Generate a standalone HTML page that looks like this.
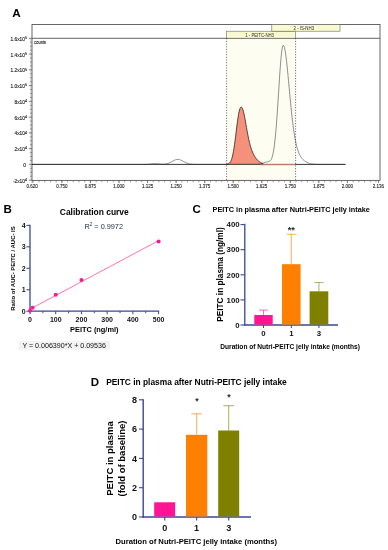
<!DOCTYPE html><html><head><meta charset="utf-8"><title>Figure</title>
<style>html,body{margin:0;padding:0;background:#fff}svg{display:block}text{font-family:"Liberation Sans",sans-serif}</style></head><body>
<svg width="388" height="550" viewBox="0 0 388 550">
<rect width="388" height="550" fill="#fff"/>
<g id="panelA">
<text x="12.3" y="16.6" font-size="11.7" font-weight="bold" fill="#000">A</text>
<rect x="226.6" y="38.3" width="69.00000000000003" height="142.10000000000002" fill="#fdfdf2"/>
<rect x="32.0" y="24.5" width="348.0" height="155.9" fill="none" stroke="#555" stroke-width="0.9"/>
<line x1="32.0" y1="38.3" x2="380.0" y2="38.3" stroke="#555" stroke-width="0.9"/>
<rect x="226.6" y="31.2" width="69.00000000000003" height="7" fill="#f9f9d2" stroke="#6a6a6a" stroke-width="0.6"/>
<rect x="271.8" y="24.6" width="68.2" height="6.6" fill="#f9f9d2" stroke="#6a6a6a" stroke-width="0.6"/>
<text x="259.6" y="36.5" font-size="5" text-anchor="middle" textLength="28.8" lengthAdjust="spacingAndGlyphs" fill="#2a2a2a">1 - PEITC-NH3</text>
<text x="303.8" y="29.7" font-size="5" text-anchor="middle" textLength="20.6" lengthAdjust="spacingAndGlyphs" fill="#2a2a2a">2 - IS-NH3</text>
<line x1="226.6" y1="38.3" x2="226.6" y2="180.4" stroke="#333" stroke-width="0.8" stroke-dasharray="1 1.65"/>
<line x1="295.6" y1="38.3" x2="295.6" y2="180.4" stroke="#333" stroke-width="0.8" stroke-dasharray="1 1.65"/>
<text x="34.3" y="43.9" font-size="4.9" textLength="11.8" lengthAdjust="spacingAndGlyphs" fill="#1a1a1a" stroke="#1a1a1a" stroke-width="0.12">counts</text>
<line x1="31.0" y1="38.3" x2="31.0" y2="180.4" stroke="#999" stroke-width="0.6"/>
<line x1="28.8" y1="38.30" x2="32.0" y2="38.30" stroke="#555" stroke-width="0.7"/>
<text x="27.0" y="40.80" font-size="4.8" text-anchor="end" fill="#1a1a1a" stroke="#1a1a1a" stroke-width="0.12">1.6x10<tspan dy="-1.7" font-size="3.7">5</tspan></text>
<line x1="29.9" y1="42.24" x2="32.0" y2="42.24" stroke="#666" stroke-width="0.6"/>
<line x1="29.9" y1="46.18" x2="32.0" y2="46.18" stroke="#666" stroke-width="0.6"/>
<line x1="29.9" y1="50.12" x2="32.0" y2="50.12" stroke="#666" stroke-width="0.6"/>
<line x1="28.8" y1="54.06" x2="32.0" y2="54.06" stroke="#555" stroke-width="0.7"/>
<text x="27.0" y="56.56" font-size="4.8" text-anchor="end" fill="#1a1a1a" stroke="#1a1a1a" stroke-width="0.12">1.4x10<tspan dy="-1.7" font-size="3.7">5</tspan></text>
<line x1="29.9" y1="58.00" x2="32.0" y2="58.00" stroke="#666" stroke-width="0.6"/>
<line x1="29.9" y1="61.94" x2="32.0" y2="61.94" stroke="#666" stroke-width="0.6"/>
<line x1="29.9" y1="65.88" x2="32.0" y2="65.88" stroke="#666" stroke-width="0.6"/>
<line x1="28.8" y1="69.83" x2="32.0" y2="69.83" stroke="#555" stroke-width="0.7"/>
<text x="27.0" y="72.33" font-size="4.8" text-anchor="end" fill="#1a1a1a" stroke="#1a1a1a" stroke-width="0.12">1.2x10<tspan dy="-1.7" font-size="3.7">5</tspan></text>
<line x1="29.9" y1="73.77" x2="32.0" y2="73.77" stroke="#666" stroke-width="0.6"/>
<line x1="29.9" y1="77.71" x2="32.0" y2="77.71" stroke="#666" stroke-width="0.6"/>
<line x1="29.9" y1="81.65" x2="32.0" y2="81.65" stroke="#666" stroke-width="0.6"/>
<line x1="28.8" y1="85.59" x2="32.0" y2="85.59" stroke="#555" stroke-width="0.7"/>
<text x="27.0" y="88.09" font-size="4.8" text-anchor="end" fill="#1a1a1a" stroke="#1a1a1a" stroke-width="0.12">1.0x10<tspan dy="-1.7" font-size="3.7">5</tspan></text>
<line x1="29.9" y1="89.53" x2="32.0" y2="89.53" stroke="#666" stroke-width="0.6"/>
<line x1="29.9" y1="93.47" x2="32.0" y2="93.47" stroke="#666" stroke-width="0.6"/>
<line x1="29.9" y1="97.41" x2="32.0" y2="97.41" stroke="#666" stroke-width="0.6"/>
<line x1="28.8" y1="101.35" x2="32.0" y2="101.35" stroke="#555" stroke-width="0.7"/>
<text x="27.0" y="103.85" font-size="4.8" text-anchor="end" fill="#1a1a1a" stroke="#1a1a1a" stroke-width="0.12">8x10<tspan dy="-1.7" font-size="3.7">4</tspan></text>
<line x1="29.9" y1="105.29" x2="32.0" y2="105.29" stroke="#666" stroke-width="0.6"/>
<line x1="29.9" y1="109.23" x2="32.0" y2="109.23" stroke="#666" stroke-width="0.6"/>
<line x1="29.9" y1="113.17" x2="32.0" y2="113.17" stroke="#666" stroke-width="0.6"/>
<line x1="28.8" y1="117.11" x2="32.0" y2="117.11" stroke="#555" stroke-width="0.7"/>
<text x="27.0" y="119.61" font-size="4.8" text-anchor="end" fill="#1a1a1a" stroke="#1a1a1a" stroke-width="0.12">6x10<tspan dy="-1.7" font-size="3.7">4</tspan></text>
<line x1="29.9" y1="121.05" x2="32.0" y2="121.05" stroke="#666" stroke-width="0.6"/>
<line x1="29.9" y1="124.99" x2="32.0" y2="124.99" stroke="#666" stroke-width="0.6"/>
<line x1="29.9" y1="128.93" x2="32.0" y2="128.93" stroke="#666" stroke-width="0.6"/>
<line x1="28.8" y1="132.88" x2="32.0" y2="132.88" stroke="#555" stroke-width="0.7"/>
<text x="27.0" y="135.38" font-size="4.8" text-anchor="end" fill="#1a1a1a" stroke="#1a1a1a" stroke-width="0.12">4x10<tspan dy="-1.7" font-size="3.7">4</tspan></text>
<line x1="29.9" y1="136.82" x2="32.0" y2="136.82" stroke="#666" stroke-width="0.6"/>
<line x1="29.9" y1="140.76" x2="32.0" y2="140.76" stroke="#666" stroke-width="0.6"/>
<line x1="29.9" y1="144.70" x2="32.0" y2="144.70" stroke="#666" stroke-width="0.6"/>
<line x1="28.8" y1="148.64" x2="32.0" y2="148.64" stroke="#555" stroke-width="0.7"/>
<text x="27.0" y="151.14" font-size="4.8" text-anchor="end" fill="#1a1a1a" stroke="#1a1a1a" stroke-width="0.12">2x10<tspan dy="-1.7" font-size="3.7">4</tspan></text>
<line x1="29.9" y1="152.58" x2="32.0" y2="152.58" stroke="#666" stroke-width="0.6"/>
<line x1="29.9" y1="156.52" x2="32.0" y2="156.52" stroke="#666" stroke-width="0.6"/>
<line x1="29.9" y1="160.46" x2="32.0" y2="160.46" stroke="#666" stroke-width="0.6"/>
<line x1="28.8" y1="164.40" x2="32.0" y2="164.40" stroke="#555" stroke-width="0.7"/>
<text x="25.8" y="166.90" font-size="4.8" text-anchor="end" fill="#1a1a1a" stroke="#1a1a1a" stroke-width="0.12">0</text>
<line x1="29.9" y1="168.34" x2="32.0" y2="168.34" stroke="#666" stroke-width="0.6"/>
<line x1="29.9" y1="172.28" x2="32.0" y2="172.28" stroke="#666" stroke-width="0.6"/>
<line x1="29.9" y1="176.22" x2="32.0" y2="176.22" stroke="#666" stroke-width="0.6"/>
<line x1="28.8" y1="180.16" x2="32.0" y2="180.16" stroke="#555" stroke-width="0.7"/>
<text x="27.0" y="182.66" font-size="4.8" text-anchor="end" fill="#1a1a1a" stroke="#1a1a1a" stroke-width="0.12">-2x10<tspan dy="-1.7" font-size="3.7">4</tspan></text>
<line x1="32.21" y1="180.4" x2="32.21" y2="183.1" stroke="#555" stroke-width="0.7"/>
<text x="32.21" y="187.5" font-size="4.5" text-anchor="middle" fill="#1a1a1a" stroke="#1a1a1a" stroke-width="0.1">0.620</text>
<line x1="61.90" y1="180.4" x2="61.90" y2="183.1" stroke="#555" stroke-width="0.7"/>
<text x="61.90" y="187.5" font-size="4.5" text-anchor="middle" fill="#1a1a1a" stroke="#1a1a1a" stroke-width="0.1">0.750</text>
<line x1="90.45" y1="180.4" x2="90.45" y2="183.1" stroke="#555" stroke-width="0.7"/>
<text x="90.45" y="187.5" font-size="4.5" text-anchor="middle" fill="#1a1a1a" stroke="#1a1a1a" stroke-width="0.1">0.875</text>
<line x1="119.00" y1="180.4" x2="119.00" y2="183.1" stroke="#555" stroke-width="0.7"/>
<text x="119.00" y="187.5" font-size="4.5" text-anchor="middle" fill="#1a1a1a" stroke="#1a1a1a" stroke-width="0.1">1.000</text>
<line x1="147.55" y1="180.4" x2="147.55" y2="183.1" stroke="#555" stroke-width="0.7"/>
<text x="147.55" y="187.5" font-size="4.5" text-anchor="middle" fill="#1a1a1a" stroke="#1a1a1a" stroke-width="0.1">1.125</text>
<line x1="176.10" y1="180.4" x2="176.10" y2="183.1" stroke="#555" stroke-width="0.7"/>
<text x="176.10" y="187.5" font-size="4.5" text-anchor="middle" fill="#1a1a1a" stroke="#1a1a1a" stroke-width="0.1">1.250</text>
<line x1="204.65" y1="180.4" x2="204.65" y2="183.1" stroke="#555" stroke-width="0.7"/>
<text x="204.65" y="187.5" font-size="4.5" text-anchor="middle" fill="#1a1a1a" stroke="#1a1a1a" stroke-width="0.1">1.375</text>
<line x1="233.20" y1="180.4" x2="233.20" y2="183.1" stroke="#555" stroke-width="0.7"/>
<text x="233.20" y="187.5" font-size="4.5" text-anchor="middle" fill="#1a1a1a" stroke="#1a1a1a" stroke-width="0.1">1.500</text>
<line x1="261.75" y1="180.4" x2="261.75" y2="183.1" stroke="#555" stroke-width="0.7"/>
<text x="261.75" y="187.5" font-size="4.5" text-anchor="middle" fill="#1a1a1a" stroke="#1a1a1a" stroke-width="0.1">1.625</text>
<line x1="290.30" y1="180.4" x2="290.30" y2="183.1" stroke="#555" stroke-width="0.7"/>
<text x="290.30" y="187.5" font-size="4.5" text-anchor="middle" fill="#1a1a1a" stroke="#1a1a1a" stroke-width="0.1">1.750</text>
<line x1="318.85" y1="180.4" x2="318.85" y2="183.1" stroke="#555" stroke-width="0.7"/>
<text x="318.85" y="187.5" font-size="4.5" text-anchor="middle" fill="#1a1a1a" stroke="#1a1a1a" stroke-width="0.1">1.875</text>
<line x1="347.40" y1="180.4" x2="347.40" y2="183.1" stroke="#555" stroke-width="0.7"/>
<text x="347.40" y="187.5" font-size="4.5" text-anchor="middle" fill="#1a1a1a" stroke="#1a1a1a" stroke-width="0.1">2.000</text>
<line x1="378.46" y1="180.4" x2="378.46" y2="183.1" stroke="#555" stroke-width="0.7"/>
<text x="378.46" y="187.5" font-size="4.5" text-anchor="middle" fill="#1a1a1a" stroke="#1a1a1a" stroke-width="0.1">2.136</text>
<line x1="33.35" y1="180.4" x2="33.35" y2="182.4" stroke="#666" stroke-width="0.6"/>
<line x1="39.06" y1="180.4" x2="39.06" y2="182.4" stroke="#666" stroke-width="0.6"/>
<line x1="44.77" y1="180.4" x2="44.77" y2="182.4" stroke="#666" stroke-width="0.6"/>
<line x1="50.48" y1="180.4" x2="50.48" y2="182.4" stroke="#666" stroke-width="0.6"/>
<line x1="56.19" y1="180.4" x2="56.19" y2="182.4" stroke="#666" stroke-width="0.6"/>
<line x1="61.90" y1="180.4" x2="61.90" y2="182.4" stroke="#666" stroke-width="0.6"/>
<line x1="67.61" y1="180.4" x2="67.61" y2="182.4" stroke="#666" stroke-width="0.6"/>
<line x1="73.32" y1="180.4" x2="73.32" y2="182.4" stroke="#666" stroke-width="0.6"/>
<line x1="79.03" y1="180.4" x2="79.03" y2="182.4" stroke="#666" stroke-width="0.6"/>
<line x1="84.74" y1="180.4" x2="84.74" y2="182.4" stroke="#666" stroke-width="0.6"/>
<line x1="90.45" y1="180.4" x2="90.45" y2="182.4" stroke="#666" stroke-width="0.6"/>
<line x1="96.16" y1="180.4" x2="96.16" y2="182.4" stroke="#666" stroke-width="0.6"/>
<line x1="101.87" y1="180.4" x2="101.87" y2="182.4" stroke="#666" stroke-width="0.6"/>
<line x1="107.58" y1="180.4" x2="107.58" y2="182.4" stroke="#666" stroke-width="0.6"/>
<line x1="113.29" y1="180.4" x2="113.29" y2="182.4" stroke="#666" stroke-width="0.6"/>
<line x1="119.00" y1="180.4" x2="119.00" y2="182.4" stroke="#666" stroke-width="0.6"/>
<line x1="124.71" y1="180.4" x2="124.71" y2="182.4" stroke="#666" stroke-width="0.6"/>
<line x1="130.42" y1="180.4" x2="130.42" y2="182.4" stroke="#666" stroke-width="0.6"/>
<line x1="136.13" y1="180.4" x2="136.13" y2="182.4" stroke="#666" stroke-width="0.6"/>
<line x1="141.84" y1="180.4" x2="141.84" y2="182.4" stroke="#666" stroke-width="0.6"/>
<line x1="147.55" y1="180.4" x2="147.55" y2="182.4" stroke="#666" stroke-width="0.6"/>
<line x1="153.26" y1="180.4" x2="153.26" y2="182.4" stroke="#666" stroke-width="0.6"/>
<line x1="158.97" y1="180.4" x2="158.97" y2="182.4" stroke="#666" stroke-width="0.6"/>
<line x1="164.68" y1="180.4" x2="164.68" y2="182.4" stroke="#666" stroke-width="0.6"/>
<line x1="170.39" y1="180.4" x2="170.39" y2="182.4" stroke="#666" stroke-width="0.6"/>
<line x1="176.10" y1="180.4" x2="176.10" y2="182.4" stroke="#666" stroke-width="0.6"/>
<line x1="181.81" y1="180.4" x2="181.81" y2="182.4" stroke="#666" stroke-width="0.6"/>
<line x1="187.52" y1="180.4" x2="187.52" y2="182.4" stroke="#666" stroke-width="0.6"/>
<line x1="193.23" y1="180.4" x2="193.23" y2="182.4" stroke="#666" stroke-width="0.6"/>
<line x1="198.94" y1="180.4" x2="198.94" y2="182.4" stroke="#666" stroke-width="0.6"/>
<line x1="204.65" y1="180.4" x2="204.65" y2="182.4" stroke="#666" stroke-width="0.6"/>
<line x1="210.36" y1="180.4" x2="210.36" y2="182.4" stroke="#666" stroke-width="0.6"/>
<line x1="216.07" y1="180.4" x2="216.07" y2="182.4" stroke="#666" stroke-width="0.6"/>
<line x1="221.78" y1="180.4" x2="221.78" y2="182.4" stroke="#666" stroke-width="0.6"/>
<line x1="227.49" y1="180.4" x2="227.49" y2="182.4" stroke="#666" stroke-width="0.6"/>
<line x1="233.20" y1="180.4" x2="233.20" y2="182.4" stroke="#666" stroke-width="0.6"/>
<line x1="238.91" y1="180.4" x2="238.91" y2="182.4" stroke="#666" stroke-width="0.6"/>
<line x1="244.62" y1="180.4" x2="244.62" y2="182.4" stroke="#666" stroke-width="0.6"/>
<line x1="250.33" y1="180.4" x2="250.33" y2="182.4" stroke="#666" stroke-width="0.6"/>
<line x1="256.04" y1="180.4" x2="256.04" y2="182.4" stroke="#666" stroke-width="0.6"/>
<line x1="261.75" y1="180.4" x2="261.75" y2="182.4" stroke="#666" stroke-width="0.6"/>
<line x1="267.46" y1="180.4" x2="267.46" y2="182.4" stroke="#666" stroke-width="0.6"/>
<line x1="273.17" y1="180.4" x2="273.17" y2="182.4" stroke="#666" stroke-width="0.6"/>
<line x1="278.88" y1="180.4" x2="278.88" y2="182.4" stroke="#666" stroke-width="0.6"/>
<line x1="284.59" y1="180.4" x2="284.59" y2="182.4" stroke="#666" stroke-width="0.6"/>
<line x1="290.30" y1="180.4" x2="290.30" y2="182.4" stroke="#666" stroke-width="0.6"/>
<line x1="296.01" y1="180.4" x2="296.01" y2="182.4" stroke="#666" stroke-width="0.6"/>
<line x1="301.72" y1="180.4" x2="301.72" y2="182.4" stroke="#666" stroke-width="0.6"/>
<line x1="307.43" y1="180.4" x2="307.43" y2="182.4" stroke="#666" stroke-width="0.6"/>
<line x1="313.14" y1="180.4" x2="313.14" y2="182.4" stroke="#666" stroke-width="0.6"/>
<line x1="318.85" y1="180.4" x2="318.85" y2="182.4" stroke="#666" stroke-width="0.6"/>
<line x1="324.56" y1="180.4" x2="324.56" y2="182.4" stroke="#666" stroke-width="0.6"/>
<line x1="330.27" y1="180.4" x2="330.27" y2="182.4" stroke="#666" stroke-width="0.6"/>
<line x1="335.98" y1="180.4" x2="335.98" y2="182.4" stroke="#666" stroke-width="0.6"/>
<line x1="341.69" y1="180.4" x2="341.69" y2="182.4" stroke="#666" stroke-width="0.6"/>
<line x1="347.40" y1="180.4" x2="347.40" y2="182.4" stroke="#666" stroke-width="0.6"/>
<line x1="353.11" y1="180.4" x2="353.11" y2="182.4" stroke="#666" stroke-width="0.6"/>
<line x1="358.82" y1="180.4" x2="358.82" y2="182.4" stroke="#666" stroke-width="0.6"/>
<line x1="364.53" y1="180.4" x2="364.53" y2="182.4" stroke="#666" stroke-width="0.6"/>
<line x1="370.24" y1="180.4" x2="370.24" y2="182.4" stroke="#666" stroke-width="0.6"/>
<line x1="375.95" y1="180.4" x2="375.95" y2="182.4" stroke="#666" stroke-width="0.6"/>
<path d="M227.00,164.23 L227.50,164.13 L228.00,163.99 L228.50,163.78 L229.00,163.48 L229.50,163.07 L230.00,162.50 L230.50,161.75 L231.00,160.77 L231.50,159.52 L232.00,157.96 L232.50,156.06 L233.00,153.79 L233.50,151.14 L234.00,148.12 L234.50,144.75 L235.00,141.09 L235.50,137.19 L236.00,133.16 L236.50,129.08 L237.00,125.08 L237.50,121.27 L238.00,117.76 L238.50,114.66 L239.00,112.05 L239.50,109.99 L240.00,108.49 L240.50,107.56 L241.00,107.15 L241.50,107.14 L242.00,107.60 L242.50,108.54 L243.00,109.95 L243.50,111.76 L244.00,113.92 L244.50,116.37 L245.00,119.02 L245.50,121.82 L246.00,124.68 L246.50,127.54 L247.00,130.36 L247.50,133.09 L248.00,135.69 L248.50,138.14 L249.00,140.43 L249.50,142.55 L250.00,144.51 L250.50,146.30 L251.00,147.94 L251.50,149.43 L252.00,150.80 L252.50,152.05 L253.00,153.20 L253.50,154.25 L254.00,155.22 L254.50,156.11 L255.00,156.92 L255.50,157.68 L256.00,158.37 L256.50,159.00 L257.00,159.59 L257.50,160.12 L258.00,160.60 L258.50,161.05 L259.00,161.45 L259.50,161.81 L260.00,162.13 L260.50,162.43 L261.00,162.69 L261.50,162.92 L262.00,163.12 L262.50,163.30 L263.00,163.46 L263,164.4 L227,164.4 Z" fill="#f5907b" stroke="#2e2222" stroke-width="0.8" stroke-linejoin="round"/>
<path d="M32.00,164.40 L32.50,164.40 L33.00,164.40 L33.50,164.40 L34.00,164.40 L34.50,164.40 L35.00,164.40 L35.50,164.40 L36.00,164.40 L36.50,164.40 L37.00,164.40 L37.50,164.40 L38.00,164.40 L38.50,164.40 L39.00,164.40 L39.50,164.40 L40.00,164.40 L40.50,164.40 L41.00,164.40 L41.50,164.40 L42.00,164.40 L42.50,164.40 L43.00,164.40 L43.50,164.40 L44.00,164.40 L44.50,164.40 L45.00,164.40 L45.50,164.40 L46.00,164.40 L46.50,164.40 L47.00,164.40 L47.50,164.40 L48.00,164.40 L48.50,164.40 L49.00,164.40 L49.50,164.40 L50.00,164.40 L50.50,164.40 L51.00,164.40 L51.50,164.40 L52.00,164.40 L52.50,164.40 L53.00,164.40 L53.50,164.40 L54.00,164.40 L54.50,164.40 L55.00,164.40 L55.50,164.40 L56.00,164.40 L56.50,164.40 L57.00,164.40 L57.50,164.40 L58.00,164.40 L58.50,164.40 L59.00,164.40 L59.50,164.40 L60.00,164.40 L60.50,164.40 L61.00,164.40 L61.50,164.40 L62.00,164.40 L62.50,164.40 L63.00,164.40 L63.50,164.40 L64.00,164.40 L64.50,164.40 L65.00,164.40 L65.50,164.40 L66.00,164.40 L66.50,164.40 L67.00,164.40 L67.50,164.40 L68.00,164.40 L68.50,164.40 L69.00,164.40 L69.50,164.40 L70.00,164.40 L70.50,164.40 L71.00,164.40 L71.50,164.40 L72.00,164.40 L72.50,164.40 L73.00,164.40 L73.50,164.40 L74.00,164.40 L74.50,164.40 L75.00,164.40 L75.50,164.40 L76.00,164.40 L76.50,164.40 L77.00,164.40 L77.50,164.40 L78.00,164.40 L78.50,164.40 L79.00,164.40 L79.50,164.40 L80.00,164.40 L80.50,164.40 L81.00,164.40 L81.50,164.40 L82.00,164.40 L82.50,164.40 L83.00,164.40 L83.50,164.40 L84.00,164.40 L84.50,164.40 L85.00,164.40 L85.50,164.40 L86.00,164.40 L86.50,164.40 L87.00,164.40 L87.50,164.40 L88.00,164.40 L88.50,164.40 L89.00,164.40 L89.50,164.40 L90.00,164.40 L90.50,164.40 L91.00,164.40 L91.50,164.40 L92.00,164.40 L92.50,164.40 L93.00,164.40 L93.50,164.40 L94.00,164.40 L94.50,164.40 L95.00,164.40 L95.50,164.40 L96.00,164.40 L96.50,164.40 L97.00,164.40 L97.50,164.40 L98.00,164.40 L98.50,164.40 L99.00,164.40 L99.50,164.40 L100.00,164.40 L100.50,164.40 L101.00,164.40 L101.50,164.40 L102.00,164.40 L102.50,164.40 L103.00,164.40 L103.50,164.40 L104.00,164.40 L104.50,164.40 L105.00,164.40 L105.50,164.40 L106.00,164.40 L106.50,164.40 L107.00,164.40 L107.50,164.40 L108.00,164.40 L108.50,164.40 L109.00,164.40 L109.50,164.40 L110.00,164.40 L110.50,164.40 L111.00,164.40 L111.50,164.40 L112.00,164.40 L112.50,164.40 L113.00,164.40 L113.50,164.40 L114.00,164.40 L114.50,164.40 L115.00,164.40 L115.50,164.40 L116.00,164.40 L116.50,164.40 L117.00,164.40 L117.50,164.40 L118.00,164.40 L118.50,164.40 L119.00,164.40 L119.50,164.40 L120.00,164.40 L120.50,164.40 L121.00,164.40 L121.50,164.40 L122.00,164.40 L122.50,164.40 L123.00,164.40 L123.50,164.40 L124.00,164.40 L124.50,164.40 L125.00,164.40 L125.50,164.40 L126.00,164.40 L126.50,164.40 L127.00,164.40 L127.50,164.40 L128.00,164.40 L128.50,164.40 L129.00,164.40 L129.50,164.40 L130.00,164.40 L130.50,164.40 L131.00,164.40 L131.50,164.40 L132.00,164.40 L132.50,164.40 L133.00,164.40 L133.50,164.40 L134.00,164.40 L134.50,164.40 L135.00,164.40 L135.50,164.40 L136.00,164.40 L136.50,164.40 L137.00,164.40 L137.50,164.40 L138.00,164.40 L138.50,164.40 L139.00,164.40 L139.50,164.40 L140.00,164.40 L140.50,164.40 L141.00,164.40 L141.50,164.40 L142.00,164.40 L142.50,164.39 L143.00,164.39 L143.50,164.39 L144.00,164.38 L144.50,164.37 L145.00,164.36 L145.50,164.35 L146.00,164.34 L146.50,164.32 L147.00,164.29 L147.50,164.26 L148.00,164.23 L148.50,164.19 L149.00,164.14 L149.50,164.09 L150.00,164.03 L150.50,163.98 L151.00,163.91 L151.50,163.85 L152.00,163.80 L152.50,163.74 L153.00,163.69 L153.50,163.65 L154.00,163.62 L154.50,163.61 L155.00,163.60 L155.50,163.60 L156.00,163.62 L156.50,163.65 L157.00,163.69 L157.50,163.74 L158.00,163.79 L158.50,163.84 L159.00,163.90 L159.50,163.96 L160.00,164.01 L160.50,164.05 L161.00,164.09 L161.50,164.12 L162.00,164.15 L162.50,164.16 L163.00,164.16 L163.50,164.15 L164.00,164.12 L164.50,164.08 L165.00,164.03 L165.50,163.96 L166.00,163.88 L166.50,163.78 L167.00,163.66 L167.50,163.53 L168.00,163.37 L168.50,163.20 L169.00,163.01 L169.50,162.80 L170.00,162.57 L170.50,162.33 L171.00,162.07 L171.50,161.81 L172.00,161.53 L172.50,161.26 L173.00,160.98 L173.50,160.72 L174.00,160.46 L174.50,160.22 L175.00,160.01 L175.50,159.82 L176.00,159.66 L176.50,159.54 L177.00,159.45 L177.50,159.41 L178.00,159.40 L178.50,159.44 L179.00,159.52 L179.50,159.63 L180.00,159.78 L180.50,159.97 L181.00,160.18 L181.50,160.41 L182.00,160.66 L182.50,160.93 L183.00,161.20 L183.50,161.48 L184.00,161.75 L184.50,162.02 L185.00,162.28 L185.50,162.52 L186.00,162.75 L186.50,162.97 L187.00,163.17 L187.50,163.34 L188.00,163.50 L188.50,163.65 L189.00,163.77 L189.50,163.88 L190.00,163.97 L190.50,164.05 L191.00,164.12 L191.50,164.18 L192.00,164.22 L192.50,164.26 L193.00,164.29 L193.50,164.31 L194.00,164.33 L194.50,164.35 L195.00,164.36 L195.50,164.37 L196.00,164.38 L196.50,164.38 L197.00,164.39 L197.50,164.39 L198.00,164.39 L198.50,164.40 L199.00,164.40 L199.50,164.40 L200.00,164.40 L200.50,164.40 L201.00,164.40 L201.50,164.40 L202.00,164.40 L202.50,164.40 L203.00,164.40 L203.50,164.40 L204.00,164.40 L204.50,164.40 L205.00,164.40 L205.50,164.40 L206.00,164.40 L206.50,164.40 L207.00,164.40 L207.50,164.40 L208.00,164.40 L208.50,164.40 L209.00,164.40 L209.50,164.40 L210.00,164.40 L210.50,164.40 L211.00,164.40 L211.50,164.40 L212.00,164.40 L212.50,164.40 L213.00,164.40 L213.50,164.40 L214.00,164.40 L214.50,164.40 L215.00,164.40 L215.50,164.40 L216.00,164.40 L216.50,164.40 L217.00,164.40 L217.50,164.40 L218.00,164.40 L218.50,164.40 L219.00,164.40 L219.50,164.40 L220.00,164.40 L220.50,164.40 L221.00,164.40 L221.50,164.40 L222.00,164.40 L222.50,164.40 L223.00,164.40 L223.50,164.40 L224.00,164.40 L224.50,164.40 L225.00,164.40 L225.50,164.40 L226.00,164.40 L226.50,164.40 L227.00,164.40 L227.50,164.40 L228.00,164.40 L228.50,164.40 L229.00,164.40 L229.50,164.40 L230.00,164.40 L230.50,164.40 L231.00,164.40 L231.50,164.40 L232.00,164.40 L232.50,164.40 L233.00,164.40 L233.50,164.40 L234.00,164.40 L234.50,164.40 L235.00,164.40 L235.50,164.40 L236.00,164.40 L236.50,164.40 L237.00,164.40 L237.50,164.40 L238.00,164.40 L238.50,164.40 L239.00,164.40 L239.50,164.40 L240.00,164.40 L240.50,164.40 L241.00,164.40 L241.50,164.40 L242.00,164.40 L242.50,164.40 L243.00,164.40 L243.50,164.40 L244.00,164.40 L244.50,164.40 L245.00,164.40 L245.50,164.40 L246.00,164.40 L246.50,164.40 L247.00,164.40 L247.50,164.40 L248.00,164.40 L248.50,164.40 L249.00,164.40 L249.50,164.40 L250.00,164.40 L250.50,164.40 L251.00,164.40 L251.50,164.40 L252.00,164.40 L252.50,164.40 L253.00,164.40 L253.50,164.40 L254.00,164.40 L254.50,164.40 L255.00,164.39 L255.50,164.39 L256.00,164.38 L256.50,164.38 L257.00,164.36 L257.50,164.34 L258.00,164.32 L258.50,164.28 L259.00,164.24 L259.50,164.18 L260.00,164.10 L260.50,164.01 L261.00,163.89 L261.50,163.76 L262.00,163.60 L262.50,163.43 L263.00,163.25 L263.50,163.05 L264.00,162.86 L264.50,162.66 L265.00,162.48 L265.50,162.32 L266.00,162.18 L266.50,162.06 L267.00,161.96 L267.50,161.87 L268.00,161.78 L268.50,161.67 L269.00,161.52 L269.50,161.28 L270.00,160.94 L270.50,160.43 L271.00,159.72 L271.50,158.75 L272.00,157.46 L272.50,155.80 L273.00,153.70 L273.50,151.12 L274.00,147.98 L274.50,144.26 L275.00,139.92 L275.50,134.94 L276.00,129.33 L276.50,123.11 L277.00,116.34 L277.50,109.10 L278.00,101.52 L278.50,93.72 L279.00,85.89 L279.50,78.21 L280.00,70.89 L280.50,64.14 L281.00,58.17 L281.50,53.16 L282.00,49.28 L282.50,46.67 L283.00,45.41 L283.50,45.44 L284.00,46.28 L284.50,47.86 L285.00,50.15 L285.50,53.11 L286.00,56.66 L286.50,60.74 L287.00,65.26 L287.50,70.14 L288.00,75.29 L288.50,80.63 L289.00,86.06 L289.50,91.51 L290.00,96.91 L290.50,102.19 L291.00,107.29 L291.50,112.18 L292.00,116.81 L292.50,121.16 L293.00,125.22 L293.50,128.98 L294.00,132.43 L294.50,135.59 L295.00,138.46 L295.50,141.06 L296.00,143.41 L296.50,145.52 L297.00,147.41 L297.50,149.11 L298.00,150.64 L298.50,152.00 L299.00,153.23 L299.50,154.33 L300.00,155.32 L300.50,156.21 L301.00,157.01 L301.50,157.74 L302.00,158.40 L302.50,159.00 L303.00,159.54 L303.50,160.03 L304.00,160.48 L304.50,160.89 L305.00,161.26 L305.50,161.59 L306.00,161.90 L306.50,162.18 L307.00,162.43 L307.50,162.65 L308.00,162.86 L308.50,163.04 L309.00,163.20 L309.50,163.35 L310.00,163.48 L310.50,163.60 L311.00,163.70 L311.50,163.79 L312.00,163.87 L312.50,163.94 L313.00,164.01 L313.50,164.06 L314.00,164.11 L314.50,164.15 L315.00,164.19 L315.50,164.22 L316.00,164.25 L316.50,164.27 L317.00,164.29 L317.50,164.31 L318.00,164.32 L318.50,164.33 L319.00,164.35 L319.50,164.35 L320.00,164.36 L320.50,164.37 L321.00,164.37 L321.50,164.38 L322.00,164.38 L322.50,164.39 L323.00,164.39 L323.50,164.39 L324.00,164.39 L324.50,164.39 L325.00,164.39 L325.50,164.40 L326.00,164.40 L326.50,164.40 L327.00,164.40 L327.50,164.40 L328.00,164.40 L328.50,164.40 L329.00,164.40 L329.50,164.40 L330.00,164.40 L330.50,164.40 L331.00,164.40 L331.50,164.40 L332.00,164.40 L332.50,164.40 L333.00,164.40 L333.50,164.40 L334.00,164.40 L334.50,164.40 L335.00,164.40 L335.50,164.40 L336.00,164.40 L336.50,164.40 L337.00,164.40 L337.50,164.40 L338.00,164.40 L338.50,164.40 L339.00,164.40 L339.50,164.40 L340.00,164.40 L340.50,164.40 L341.00,164.40 L341.50,164.40 L342.00,164.40 L342.50,164.40 L343.00,164.40 L343.50,164.40 L344.00,164.40 L344.50,164.40 L345.00,164.40 L345.50,164.40" fill="none" stroke="#444" stroke-width="0.6" stroke-linejoin="round"/>
<line x1="32.0" y1="164.4" x2="228" y2="164.4" stroke="#2a2a2a" stroke-width="0.95"/>
<line x1="260" y1="164.75" x2="296" y2="164.75" stroke="#f28a76" stroke-width="1.1"/>
<line x1="260" y1="164.25" x2="296" y2="164.25" stroke="#5a2f28" stroke-width="0.5"/>
<line x1="295.5" y1="164.4" x2="345.5" y2="164.4" stroke="#2a2a2a" stroke-width="0.95"/>
</g>
<g id="panelB">
<text x="3.6" y="212.6" font-size="11.5" font-weight="bold" fill="#000">B</text>
<text x="94.3" y="214.6" font-size="8.45" font-weight="bold" text-anchor="middle" fill="#000">Calibration curve</text>
<text x="84.5" y="228.8" font-size="7.3" fill="#2c3046">R<tspan dy="-2.6" font-size="4.6">2</tspan><tspan dy="2.6"> = 0.9972</tspan></text>
<line x1="30.0" y1="224.8" x2="30.0" y2="311.84999999999997" stroke="#38459b" stroke-width="1.3"/>
<line x1="29.35" y1="311.2" x2="159.2" y2="311.2" stroke="#38459b" stroke-width="1.3"/>
<line x1="26.4" y1="311.20" x2="30.0" y2="311.20" stroke="#38459b" stroke-width="1.05"/>
<text x="25.6" y="313.70" font-size="7.0" font-weight="bold" text-anchor="end" fill="#111">0</text>
<line x1="26.4" y1="289.75" x2="30.0" y2="289.75" stroke="#38459b" stroke-width="1.05"/>
<text x="25.6" y="292.25" font-size="7.0" font-weight="bold" text-anchor="end" fill="#111">1</text>
<line x1="26.4" y1="268.30" x2="30.0" y2="268.30" stroke="#38459b" stroke-width="1.05"/>
<text x="25.6" y="270.80" font-size="7.0" font-weight="bold" text-anchor="end" fill="#111">2</text>
<line x1="26.4" y1="246.85" x2="30.0" y2="246.85" stroke="#38459b" stroke-width="1.05"/>
<text x="25.6" y="249.35" font-size="7.0" font-weight="bold" text-anchor="end" fill="#111">3</text>
<line x1="26.4" y1="225.40" x2="30.0" y2="225.40" stroke="#38459b" stroke-width="1.05"/>
<text x="25.6" y="227.90" font-size="7.0" font-weight="bold" text-anchor="end" fill="#111">4</text>
<line x1="30.00" y1="311.2" x2="30.00" y2="314.2" stroke="#38459b" stroke-width="1"/>
<text x="30.00" y="321.6" font-size="7.0" font-weight="bold" text-anchor="middle" fill="#111">0</text>
<line x1="42.86" y1="311.2" x2="42.86" y2="313.2" stroke="#38459b" stroke-width="1"/>
<line x1="55.72" y1="311.2" x2="55.72" y2="314.2" stroke="#38459b" stroke-width="1"/>
<text x="55.72" y="321.6" font-size="7.0" font-weight="bold" text-anchor="middle" fill="#111">100</text>
<line x1="68.58" y1="311.2" x2="68.58" y2="313.2" stroke="#38459b" stroke-width="1"/>
<line x1="81.44" y1="311.2" x2="81.44" y2="314.2" stroke="#38459b" stroke-width="1"/>
<text x="81.44" y="321.6" font-size="7.0" font-weight="bold" text-anchor="middle" fill="#111">200</text>
<line x1="94.30" y1="311.2" x2="94.30" y2="313.2" stroke="#38459b" stroke-width="1"/>
<line x1="107.16" y1="311.2" x2="107.16" y2="314.2" stroke="#38459b" stroke-width="1"/>
<text x="107.16" y="321.6" font-size="7.0" font-weight="bold" text-anchor="middle" fill="#111">300</text>
<line x1="120.02" y1="311.2" x2="120.02" y2="313.2" stroke="#38459b" stroke-width="1"/>
<line x1="132.88" y1="311.2" x2="132.88" y2="314.2" stroke="#38459b" stroke-width="1"/>
<text x="132.88" y="321.6" font-size="7.0" font-weight="bold" text-anchor="middle" fill="#111">400</text>
<line x1="145.74" y1="311.2" x2="145.74" y2="313.2" stroke="#38459b" stroke-width="1"/>
<line x1="158.60" y1="311.2" x2="158.60" y2="314.2" stroke="#38459b" stroke-width="1"/>
<text x="158.60" y="321.6" font-size="7.0" font-weight="bold" text-anchor="middle" fill="#111">500</text>
<text x="94.3" y="331.8" font-size="7.4" font-weight="bold" text-anchor="middle" fill="#000">PEITC (ng/ml)</text>
<text transform="translate(15.3,268.5) rotate(-90)" font-size="5.95" font-weight="bold" text-anchor="middle" fill="#000">Ratio of AUC- PEITC / AUC- IS</text>
<line x1="30.0" y1="309.16" x2="158.60" y2="240.63" stroke="#ff4fa0" stroke-width="0.8"/>
<circle cx="30.00" cy="310.77" r="2" fill="#ff1493"/>
<circle cx="32.57" cy="307.77" r="2" fill="#ff1493"/>
<circle cx="55.72" cy="294.68" r="2" fill="#ff1493"/>
<circle cx="81.44" cy="280.10" r="2" fill="#ff1493"/>
<circle cx="158.60" cy="241.49" r="2" fill="#ff1493"/>
<rect x="18.5" y="341" width="91.5" height="8.8" fill="#f3f3f3"/>
<text x="22.4" y="347.7" font-size="7.1" fill="#111">Y = 0.006390*X + 0.09536</text>
</g>
<g id="panelC">
<text x="192.6" y="213.0" font-size="11.5" font-weight="bold" fill="#000">C</text>
<text x="212.6" y="211.6" font-size="7.3" font-weight="bold" fill="#000">PEITC in plasma after Nutri-PEITC jelly intake</text>
<line x1="244.8" y1="223.8" x2="244.8" y2="325.65" stroke="#38459b" stroke-width="1.3"/>
<line x1="244.15" y1="325.0" x2="338" y2="325.0" stroke="#38459b" stroke-width="1.3"/>
<line x1="240.5" y1="325.00" x2="244.8" y2="325.00" stroke="#38459b" stroke-width="1.1"/>
<text x="239.6" y="327.70" font-size="7.8" font-weight="bold" text-anchor="end" fill="#111">0</text>
<line x1="240.5" y1="299.90" x2="244.8" y2="299.90" stroke="#38459b" stroke-width="1.1"/>
<text x="239.6" y="302.60" font-size="7.8" font-weight="bold" text-anchor="end" fill="#111">100</text>
<line x1="240.5" y1="274.80" x2="244.8" y2="274.80" stroke="#38459b" stroke-width="1.1"/>
<text x="239.6" y="277.50" font-size="7.8" font-weight="bold" text-anchor="end" fill="#111">200</text>
<line x1="240.5" y1="249.70" x2="244.8" y2="249.70" stroke="#38459b" stroke-width="1.1"/>
<text x="239.6" y="252.40" font-size="7.8" font-weight="bold" text-anchor="end" fill="#111">300</text>
<line x1="240.5" y1="224.60" x2="244.8" y2="224.60" stroke="#38459b" stroke-width="1.1"/>
<text x="239.6" y="227.30" font-size="7.8" font-weight="bold" text-anchor="end" fill="#111">400</text>
<text transform="translate(222.9,274.5) rotate(-90)" font-size="8.25" font-weight="bold" text-anchor="middle" fill="#000">PEITC in plasma (ng/ml)</text>
<line x1="263.50" y1="315.0" x2="263.50" y2="310.1" stroke="#ff1493" stroke-width="1.05" stroke-opacity="0.6"/>
<line x1="258.90" y1="310.1" x2="268.10" y2="310.1" stroke="#ff1493" stroke-width="1.05" stroke-opacity="0.6"/>
<rect x="254.3" y="315.0" width="18.40" height="9.60" fill="#ff1493"/>
<line x1="263.50" y1="325.0" x2="263.50" y2="328.0" stroke="#38459b" stroke-width="1"/>
<text x="263.50" y="336.1" font-size="7.8" font-weight="bold" text-anchor="middle" fill="#111">0</text>
<line x1="291.30" y1="264.2" x2="291.30" y2="234.3" stroke="#ff8000" stroke-width="1.05" stroke-opacity="0.6"/>
<line x1="286.70" y1="234.3" x2="295.90" y2="234.3" stroke="#ff8000" stroke-width="1.05" stroke-opacity="0.6"/>
<rect x="282.0" y="264.2" width="18.60" height="60.40" fill="#ff8000"/>
<line x1="291.30" y1="325.0" x2="291.30" y2="328.0" stroke="#38459b" stroke-width="1"/>
<text x="291.30" y="336.1" font-size="7.8" font-weight="bold" text-anchor="middle" fill="#111">1</text>
<line x1="318.95" y1="291.3" x2="318.95" y2="282.5" stroke="#808000" stroke-width="1.05" stroke-opacity="0.6"/>
<line x1="314.35" y1="282.5" x2="323.55" y2="282.5" stroke="#808000" stroke-width="1.05" stroke-opacity="0.6"/>
<rect x="309.6" y="291.3" width="18.70" height="33.30" fill="#808000"/>
<line x1="318.95" y1="325.0" x2="318.95" y2="328.0" stroke="#38459b" stroke-width="1"/>
<text x="318.95" y="336.1" font-size="7.8" font-weight="bold" text-anchor="middle" fill="#111">3</text>
<text x="291.3" y="233.1" font-size="9.2" font-weight="bold" text-anchor="middle" fill="#1e2238">**</text>
<text x="290.1" y="348.6" font-size="6.6" font-weight="bold" text-anchor="middle" fill="#000">Duration of Nutri-PEITC jelly intake (months)</text>
</g>
<g id="panelD">
<text x="90.8" y="385.7" font-size="11.5" font-weight="bold" fill="#000">D</text>
<text x="106.2" y="385.0" font-size="8.38" font-weight="bold" fill="#000">PEITC in plasma after Nutri-PEITC jelly intake</text>
<line x1="143.2" y1="399.2" x2="143.2" y2="517.7" stroke="#38459b" stroke-width="1.4"/>
<line x1="142.5" y1="517.0" x2="251" y2="517.0" stroke="#38459b" stroke-width="1.4"/>
<line x1="139.0" y1="517.00" x2="143.2" y2="517.00" stroke="#38459b" stroke-width="1.1"/>
<text x="137.0" y="520.20" font-size="9.0" font-weight="bold" text-anchor="end" fill="#111">0</text>
<line x1="139.0" y1="487.70" x2="143.2" y2="487.70" stroke="#38459b" stroke-width="1.1"/>
<text x="137.0" y="490.90" font-size="9.0" font-weight="bold" text-anchor="end" fill="#111">2</text>
<line x1="139.0" y1="458.40" x2="143.2" y2="458.40" stroke="#38459b" stroke-width="1.1"/>
<text x="137.0" y="461.60" font-size="9.0" font-weight="bold" text-anchor="end" fill="#111">4</text>
<line x1="139.0" y1="429.10" x2="143.2" y2="429.10" stroke="#38459b" stroke-width="1.1"/>
<text x="137.0" y="432.30" font-size="9.0" font-weight="bold" text-anchor="end" fill="#111">6</text>
<line x1="139.0" y1="399.80" x2="143.2" y2="399.80" stroke="#38459b" stroke-width="1.1"/>
<text x="137.0" y="403.00" font-size="9.0" font-weight="bold" text-anchor="end" fill="#111">8</text>
<text transform="translate(113.4,458.5) rotate(-90)" font-size="9.5" font-weight="bold" text-anchor="middle" fill="#000">PEITC in plasma</text>
<text transform="translate(124.9,458.5) rotate(-90)" font-size="9.5" font-weight="bold" text-anchor="middle" fill="#000">(fold of baseline)</text>
<rect x="154.2" y="502.3" width="21.00" height="14.20" fill="#ff1493"/>
<line x1="164.70" y1="517.0" x2="164.70" y2="520.4" stroke="#38459b" stroke-width="1.1"/>
<text x="164.70" y="531.0" font-size="9.1" font-weight="bold" text-anchor="middle" fill="#111">0</text>
<line x1="196.65" y1="434.8" x2="196.65" y2="413.8" stroke="#ff8000" stroke-width="1.1" stroke-opacity="0.6"/>
<line x1="191.35" y1="413.8" x2="201.95" y2="413.8" stroke="#ff8000" stroke-width="1.1" stroke-opacity="0.6"/>
<text x="196.95" y="404.2" font-size="8.8" font-weight="bold" text-anchor="middle" fill="#232a45">*</text>
<rect x="186.0" y="434.8" width="21.30" height="81.70" fill="#ff8000"/>
<line x1="196.65" y1="517.0" x2="196.65" y2="520.4" stroke="#38459b" stroke-width="1.1"/>
<text x="196.65" y="531.0" font-size="9.1" font-weight="bold" text-anchor="middle" fill="#111">1</text>
<line x1="228.70" y1="430.5" x2="228.70" y2="405.7" stroke="#808000" stroke-width="1.1" stroke-opacity="0.6"/>
<line x1="223.40" y1="405.7" x2="234.00" y2="405.7" stroke="#808000" stroke-width="1.1" stroke-opacity="0.6"/>
<text x="229.00" y="399.7" font-size="8.8" font-weight="bold" text-anchor="middle" fill="#232a45">*</text>
<rect x="218.2" y="430.5" width="21.00" height="86.00" fill="#808000"/>
<line x1="228.70" y1="517.0" x2="228.70" y2="520.4" stroke="#38459b" stroke-width="1.1"/>
<text x="228.70" y="531.0" font-size="9.1" font-weight="bold" text-anchor="middle" fill="#111">3</text>
<text x="196.3" y="544.3" font-size="7.64" font-weight="bold" text-anchor="middle" fill="#000">Duration of Nutri-PEITC jelly intake (months)</text>
</g>
</svg></body></html>
